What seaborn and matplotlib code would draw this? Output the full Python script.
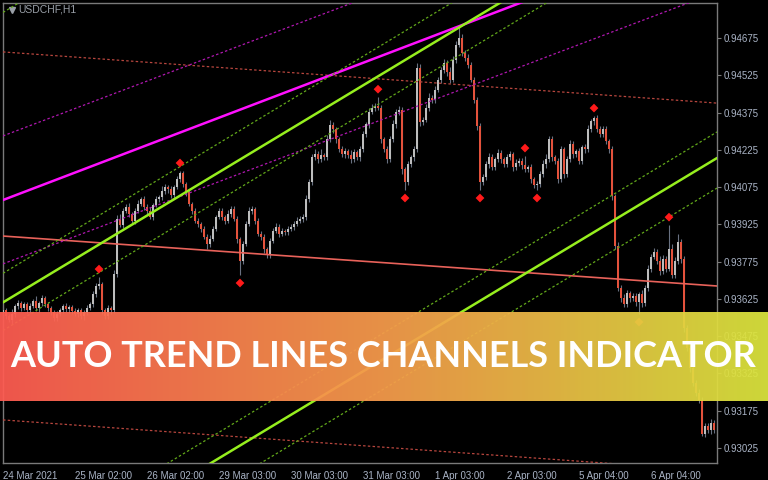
import numpy as np
import pandas as pd
import matplotlib
matplotlib.use("Agg")
import matplotlib.pyplot as plt
from matplotlib.colors import LinearSegmentedColormap
import seaborn as sns

# USDCHF H1 closes, in points above 0.93000
closes = [579, 555, 539, 563, 595, 607, 587, 603,
          579, 595, 615, 587, 607, 627, 603, 587,
          571, 547, 563, 579, 595, 583, 591, 575,
          563, 579, 555, 571, 587, 603, 643, 675,
          683, 579, 555, 587, 579, 727, 947, 923,
          979, 995, 967, 939, 979, 1007, 1027, 995,
          979, 955, 1003, 1027, 1035, 1059, 1075, 1067,
          1043, 1075, 1107, 1131, 1087, 1055, 1007, 979,
          939, 927, 907, 875, 847, 867, 907, 955,
          979, 955, 939, 967, 987, 947, 867, 779,
          847, 927, 979, 987, 939, 887, 875, 827,
          803, 859, 899, 915, 887, 899, 895, 907,
          915, 927, 939, 947, 955, 1027, 1095, 1195,
          1207, 1187, 1203, 1195, 1267, 1323, 1307, 1267,
          1227, 1207, 1219, 1203, 1187, 1215, 1195, 1227,
          1287, 1327, 1379, 1395, 1403, 1395, 1267, 1227,
          1187, 1267, 1327, 1379, 1387, 1147, 1095, 1167,
          1195, 1227, 1555, 1335, 1347, 1395, 1435, 1427,
          1467, 1507, 1547, 1575, 1539, 1507, 1587, 1647,
          1675, 1615, 1595, 1567, 1507, 1427, 1319, 1095,
          1115, 1167, 1195, 1155, 1187, 1211, 1187, 1167,
          1195, 1207, 1155, 1171, 1179, 1163, 1147, 1155,
          1107, 1083, 1087, 1127, 1167, 1187, 1267, 1195,
          1179, 1107, 1227, 1127, 1187, 1247, 1207, 1219,
          1179, 1235, 1227, 1307, 1339, 1355, 1307, 1287,
          1307, 1259, 1227, 1039, 839, 667, 627, 603,
          647, 627, 635, 611, 643, 607, 667, 747,
          795, 815, 779, 739, 787, 747, 827, 723,
          779, 855, 787, 507, 427, 347, 287, 247,
          219, 83, 115, 99, 127, 99]
first_open = 570

# wick lengths above / below the body, points
up_wick = [12, 8, 10, 20, 10, 14, 8, 10,
           10, 12, 8, 20, 10, 12, 8, 10,
           10, 8, 12, 10, 8, 12, 10, 8,
           12, 10, 8, 10, 12, 10, 14, 16,
           30, 10, 8, 12, 10, 14, 16, 20,
           12, 10, 14, 8, 12, 16, 10, 12,
           10, 14, 8, 12, 10, 20, 12, 10,
           14, 10, 12, 9, 10, 8, 12, 10,
           10, 12, 8, 10, 12, 14, 10, 8,
           12, 10, 8, 14, 10, 12, 10, 8,
           10, 12, 14, 10, 8, 12, 10, 12,
           8, 12, 10, 14, 10, 12, 8, 10,
           12, 10, 14, 12, 10, 16, 12, 14,
           20, 12, 24, 10, 16, 22, 12, 10,
           10, 14, 12, 10, 20, 12, 10, 14,
           12, 10, 16, 14, 12, 34, 12, 10,
           14, 12, 20, 10, 16, 12, 10, 14,
           10, 12, 18, 14, 12, 16, 20, 12,
           14, 10, 12, 16, 12, 20, 14, 16,
           44, 16, 12, 14, 10, 12, 10, 14,
           12, 14, 16, 12, 10, 16, 12, 10,
           14, 12, 10, 16, 12, 14, 37, 10,
           12, 10, 14, 12, 16, 20, 14, 12,
           10, 14, 12, 10, 14, 16, 12, 10,
           12, 10, 14, 16, 12, 6, 10, 12,
           14, 12, 10, 12, 10, 14, 12, 16,
           12, 10, 14, 12, 10, 16, 12, 14,
           12, 16, 10, 20, 14, 12, 95, 20,
           16, 30, 12, 10, 12, 14, 10, 12,
           14, 10, 12, 10, 14, 10]
dn_wick = [10, 12, 8, 14, 10, 12, 10, 8,
           12, 10, 8, 12, 14, 10, 12, 10,
           10, 12, 10, 8, 12, 10, 14, 10,
           8, 12, 10, 14, 10, 8, 12, 10,
           12, 14, 10, 12, 14, 10, 12, 10,
           12, 10, 14, 10, 12, 8, 10, 12,
           14, 10, 12, 8, 10, 12, 10, 14,
           12, 10, 8, 10, 12, 14, 10, 12,
           10, 14, 12, 10, 20, 12, 10, 8,
           10, 12, 14, 10, 12, 10, 16, 58,
           12, 10, 8, 12, 14, 10, 12, 16,
           14, 12, 10, 8, 12, 10, 14, 12,
           10, 12, 8, 10, 12, 14, 10, 12,
           12, 14, 10, 12, 10, 12, 14, 16,
           12, 10, 14, 12, 16, 10, 12, 14,
           10, 12, 14, 10, 12, 10, 14, 12,
           16, 12, 10, 14, 12, 20, 32, 12,
           10, 14, 12, 16, 12, 10, 14, 12,
           12, 10, 14, 12, 16, 12, 10, 14,
           10, 12, 14, 12, 10, 14, 16, 32,
           12, 10, 14, 12, 10, 12, 14, 10,
           12, 10, 14, 12, 10, 14, 12, 10,
           14, 12, 20, 10, 12, 14, 10, 16,
           12, 14, 10, 16, 12, 10, 14, 12,
           10, 12, 14, 10, 12, 14, 12, 10,
           12, 10, 14, 16, 14, 12, 16, 12,
           10, 14, 12, 16, 47, 14, 12, 10,
           12, 10, 14, 16, 12, 14, 10, 12,
           14, 12, 16, 14, 12, 16, 14, 12,
           14, 10, 12, 14, 16, 12]

fractal_up = [32, 59, 125, 174, 197, 222]
fractal_dn = [79, 134, 159, 178, 212]

date_ticks = [0, 24, 48, 72, 96, 120, 144, 168, 192, 216]
date_labels = ["24 Mar 2021", "25 Mar 02:00", "26 Mar 02:00", "29 Mar 03:00",
               "30 Mar 03:00", "31 Mar 03:00", "1 Apr 03:00", "2 Apr 03:00",
               "5 Apr 04:00", "6 Apr 04:00"]
price_ticks = [0.93025, 0.93175, 0.93325, 0.93475, 0.93625, 0.93775,
               0.93925, 0.94075, 0.94225, 0.94375, 0.94525, 0.94675]

# channel lines: price at the left edge (bar 0) and right edge (bar 238)
line_bars = [0, 238]
salmon_lines = {"mid": [0.93878, 0.93677], "hi": [0.94619, 0.94413], "lo": [0.93138, 0.92932]}
magenta_lines = {"mid": [0.94023, 0.95118], "hi": [0.94281, 0.95375], "lo": [0.93766, 0.94860]}
green_lines = {"up_mid": [0.93611, 0.95343], "up_a": [0.93728, 0.95460], "up_b": [0.93498, 0.95230],
               "lo_mid": [0.92460, 0.94192], "lo_c": [0.92564, 0.94297], "lo_d": [0.92339, 0.94071],
               "top": [0.94778, 0.96510]}

banner_text = "AUTO TREND LINES CHANNELS INDICATOR"
banner_colors = ["#ff5c52", "#f79c4c", "#dce63e"]

sns.set_style("dark", {"axes.facecolor": "black", "figure.facecolor": "black"})
plt.rcParams['font.family'] = ['Liberation Sans', 'DejaVu Sans']

c = 0.93 + np.array(closes) / 1e5
o = np.concatenate([[0.93 + first_open / 1e5], c[:-1]])
hi = np.maximum(o, c) + np.array(up_wick) / 1e5
lo = np.minimum(o, c) - np.array(dn_wick) / 1e5
bars = np.arange(len(c))
df = pd.DataFrame({'bar': bars, 'open': o, 'close': c, 'high': hi, 'low': lo})
df['bull'] = df['close'] >= df['open']

fig = plt.figure(figsize=(7.68, 4.8), dpi=100)
fig.patch.set_facecolor('black')
ax = fig.add_axes([3 / 768, 17 / 480, 714 / 768, 460 / 480])
ax.set_facecolor('black')

# candles
ax.vlines(df['bar'], df['low'], df['high'], color='#687080', lw=0.8, zorder=2)
body_h = (df['close'] - df['open']).abs().clip(lower=0.00002)
body_b = df[['open', 'close']].min(axis=1)
colors = np.where(df['bull'], '#bdbdbd', '#e4523c')
ax.bar(df['bar'], body_h, bottom=body_b, width=0.76, color=colors, lw=0, zorder=3)

# channel lines
dot = (0, (2, 1.8))
for name, p in salmon_lines.items():
    sns.lineplot(x=line_bars, y=p, ax=ax, color='#e8625a' if name == 'mid' else '#b8463e',
                 lw=1.2 if name == 'mid' else 0.9, ls='-' if name == 'mid' else dot, zorder=4)
for name, p in magenta_lines.items():
    sns.lineplot(x=line_bars, y=p, ax=ax, color='#ff10ff' if name == 'mid' else '#b018b0',
                 lw=1.8 if name == 'mid' else 0.9, ls='-' if name == 'mid' else dot, zorder=4)
for name, p in green_lines.items():
    solid = name.endswith('mid')
    sns.lineplot(x=line_bars, y=p, ax=ax, color='#96ee1e' if solid else '#62a81a',
                 lw=1.8 if solid else 0.9, ls='-' if solid else dot, zorder=4)

# fractal marks
fr = pd.DataFrame({'bar': fractal_up + fractal_dn,
                   'y': list(df['high'].iloc[fractal_up] + 0.00032) + list(df['low'].iloc[fractal_dn] - 0.00032)})
sns.scatterplot(data=fr, x='bar', y='y', ax=ax, marker='D', s=20, color='#ff1a1a',
                edgecolor='none', zorder=5, legend=False)

ax.set_xlim(0, 238)
ax.set_ylim(0.929646, 0.948159)
ax.set_xlabel('')
ax.set_ylabel('')
ax.yaxis.tick_right()
ax.set_yticks(price_ticks)
ax.set_yticklabels([f"{p:.5f}" for p in price_ticks])
ax.set_xticks(date_ticks)
ax.set_xticklabels(date_labels, ha='left')
ax.tick_params(axis='both', colors='#7a7a7a', labelcolor='#aab4c6', labelsize=7,
               length=3, width=0.8, direction='out', pad=2)
ax.tick_params(axis='x', pad=3)
for s in ax.spines.values():
    s.set_visible(True)
    s.set_color('#7a7a7a')
    s.set_linewidth(1)
ax.grid(False)

ax.plot([0.012], [0.985], marker='v', ms=4, color='#9aa0a8', transform=ax.transAxes, clip_on=False)
ax.text(0.021, 0.986, "USDCHF,H1", transform=ax.transAxes, color='#9aa0a8', fontsize=7.5,
        va='center', ha='left')

# banner
bax = fig.add_axes([0, 79 / 480, 1, 89 / 480])
cmap = LinearSegmentedColormap.from_list('banner', banner_colors)
bax.imshow(np.linspace(0, 1, 256)[None, :], aspect='auto', cmap=cmap, alpha=0.94,
           extent=[0, 1, 0, 1])
bax.set_xlim(0, 1)
bax.set_ylim(0, 1)
bax.axis('off')
t = bax.text(0.499, 0.50, banner_text, color='white', fontsize=30, fontweight='bold',
             family=['Lato', 'DejaVu Sans'], ha='center', va='center')
fig.canvas.draw()
w = t.get_window_extent().width
t.set_fontsize(30 * 747 / w)

fig.savefig('out.png', dpi=100, facecolor='black')
